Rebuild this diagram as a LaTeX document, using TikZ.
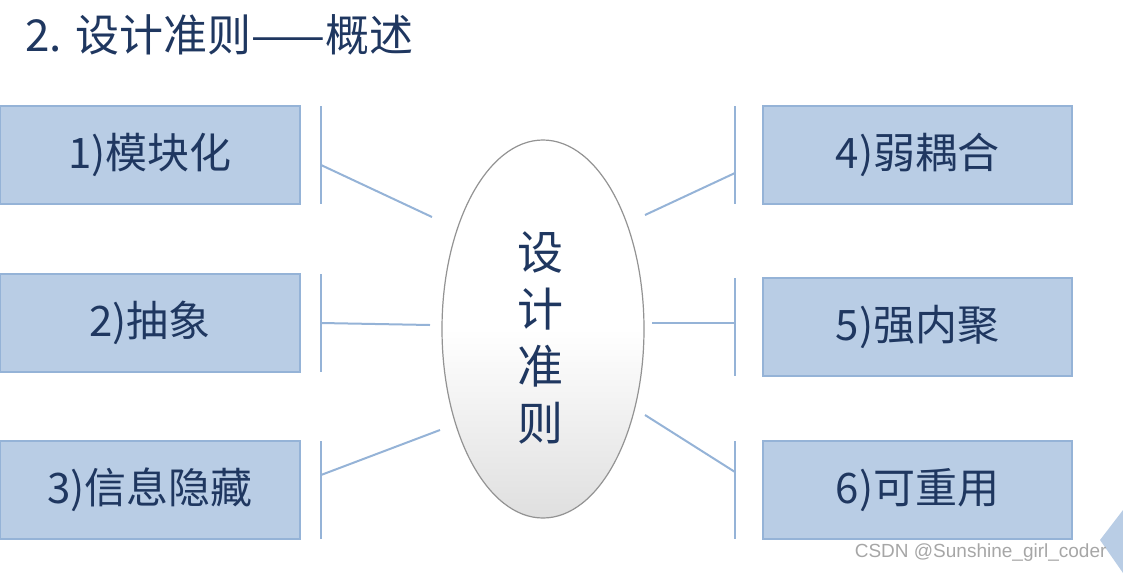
\documentclass[tikz,border=0pt]{standalone}
\usepackage{fontspec}
\setmainfont{Noto Sans CJK SC}
\newfontfamily\wm{Liberation Sans}
\usetikzlibrary{shapes.geometric}
\definecolor{boxfill}{HTML}{B9CDE5}
\definecolor{boxline}{HTML}{95B3D7}
\definecolor{navy}{HTML}{1F3760}
\begin{document}
\begin{tikzpicture}[x=1pt,y=-1pt,
  pbox/.style={draw=boxline,line width=2pt,fill=boxfill,minimum width=300pt,minimum height=98pt,inner sep=0pt,font=\fontsize{42}{48}\selectfont,text=navy},
  bar/.style={draw=boxline,line width=2pt},
  conn/.style={draw=boxline,line width=2pt}]
\useasboundingbox (0,0) rectangle (1123,573);
\node[anchor=west,text=navy,font=\fontsize{44}{50}\selectfont] (title) at (22,35) {2. 设计准则——概述};
\node[pbox] (b1) at (150,155) {1)模块化};
\node[pbox] (b2) at (150,323) {2)抽象};
\node[pbox] (b3) at (150,490) {3)信息隐藏};
\node[pbox,minimum width=309pt] (b4) at (917.5,155) {4)弱耦合};
\node[pbox,minimum width=309pt] (b5) at (917.5,327) {5)强内聚};
\node[pbox,minimum width=309pt] (b6) at (917.5,490) {6)可重用};
\node[ellipse,draw=gray!85,line width=1.2pt,top color=white,bottom color=gray!25,middle color=white,minimum width=202pt,minimum height=378pt] (ell) at (543,329) {};
\node[text=navy,font=\fontsize{46}{57}\selectfont,align=center] (et) at (540,338) {设\\计\\准\\则};
\coordinate (l1t) at (321,106); \coordinate (l1b) at (321,204);
\coordinate (l2t) at (321,274); \coordinate (l2b) at (321,372);
\coordinate (l3t) at (321,441); \coordinate (l3b) at (321,539);
\coordinate (r1t) at (735,106); \coordinate (r1b) at (735,204);
\coordinate (r2t) at (735,278); \coordinate (r2b) at (735,376);
\coordinate (r3t) at (735,441); \coordinate (r3b) at (735,539);
\draw[bar] (l1t)--(l1b); \draw[bar] (l2t)--(l2b); \draw[bar] (l3t)--(l3b);
\draw[bar] (r1t)--(r1b); \draw[bar] (r2t)--(r2b); \draw[bar] (r3t)--(r3b);
\coordinate (c1a) at (321,165); \coordinate (c1b) at (432,217);
\coordinate (c2a) at (321,323); \coordinate (c2b) at (430,325);
\coordinate (c3a) at (321,475); \coordinate (c3b) at (440,430);
\coordinate (c4a) at (735,173); \coordinate (c4b) at (645,215);
\coordinate (c5a) at (735,323); \coordinate (c5b) at (652,323);
\coordinate (c6a) at (735,472); \coordinate (c6b) at (645,415);
\draw[conn] (c1a)--(c1b); \draw[conn] (c2a)--(c2b); \draw[conn] (c3a)--(c3b);
\draw[conn] (c4a)--(c4b); \draw[conn] (c5a)--(c5b); \draw[conn] (c6a)--(c6b);
\fill[boxfill] (1123,510) -- (1100,540) -- (1123,573) -- cycle;
\node[text=gray!70,font=\wm\fontsize{19}{22}\selectfont,anchor=east] (wm) at (1110,553) {CSDN @Sunshine\_girl\_coder};
\end{tikzpicture}
\end{document}
